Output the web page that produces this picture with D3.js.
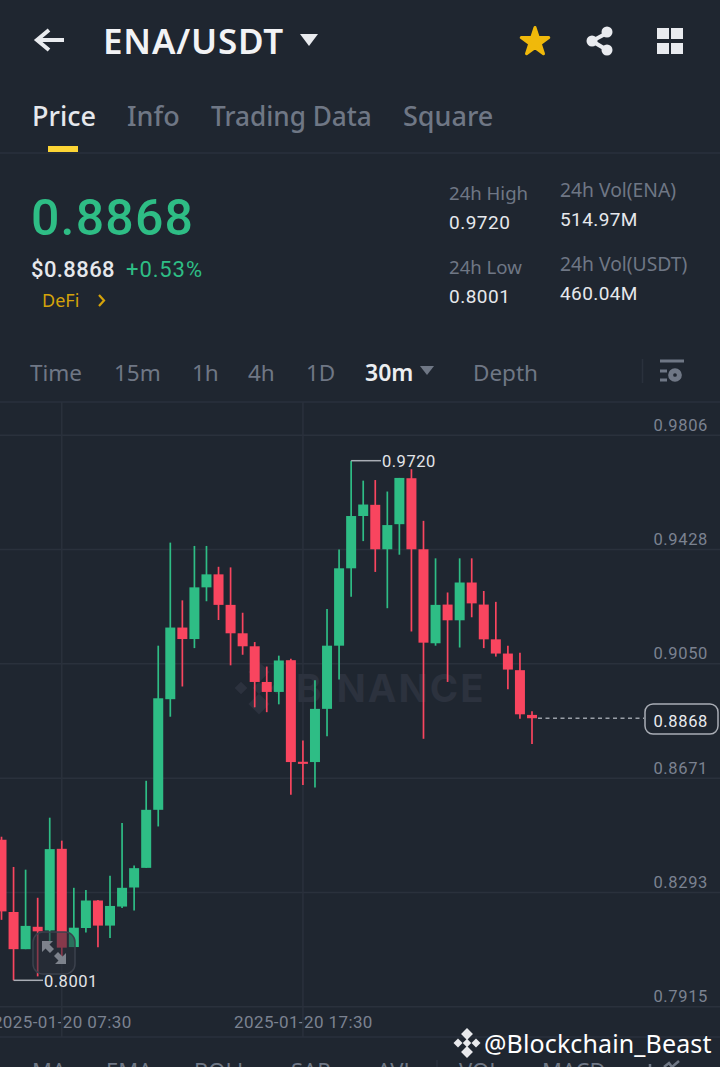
<!DOCTYPE html>
<html><head><meta charset="utf-8">
<script src="https://cdn.jsdelivr.net/npm/d3@7"></script>
<style>
html,body{margin:0;padding:0;background:#1f2630;overflow:hidden}
svg{display:block}
text{font-family:"Noto Sans",sans-serif}
.num{font-family:Roboto,sans-serif}
</style></head><body>
<svg id="c" width="720" height="1067"></svg>
<script>
const open  = [.8466,.8227,.8104,.8178,.8166,.8436,.8111,.8174,.8265,.8182,.8245,.8308,.8373,.8565,.8931,.9168,.9130,.9301,.9344,.9243,.9149,.9106,.8988,.8955,.9060,.8724,.8723,.8899,.9108,.9364,.9537,.9574,.9427,.9510,.9662,.9427,.9116,.9244,.9192,.9317,.9244,.9129,.9082,.9027,.8879];
const high  = [.8476,.8376,.8367,.8274,.8539,.8463,.8307,.8300,.8267,.8347,.8521,.8381,.8661,.9108,.9449,.9258,.9438,.9438,.9369,.9367,.9217,.9120,.9039,.9075,.9065,.8794,.8994,.9229,.9426,.9720,.9654,.9656,.9618,.9663,.9692,.9521,.9397,.9284,.9397,.9397,.9289,.9253,.9108,.9085,.8891];
const low   = [.8201,.8001,.8104,.8014,.8125,.8079,.8111,.8159,.8110,.8141,.8240,.8232,.8373,.8510,.8873,.8973,.9100,.9255,.9193,.9043,.9078,.8904,.8888,.8914,.8615,.8647,.8639,.8808,.8996,.9270,.9454,.9352,.9232,.9409,.9155,.8800,.9108,.8988,.9102,.9202,.9100,.9072,.8964,.8866,.8783];
const close = [.8229,.8104,.8181,.8163,.8435,.8109,.8175,.8265,.8182,.8247,.8307,.8372,.8565,.8934,.9168,.9130,.9301,.9344,.9243,.9149,.9106,.8988,.8955,.9059,.8723,.8717,.8899,.9108,.9364,.9537,.9575,.9427,.9507,.9663,.9427,.9118,.9243,.9192,.9317,.9248,.9129,.9082,.9029,.8881,.8868];
const firstTime = new Date(2025,0,20,5,0);
const stepMs = 30*60*1000;
const priceTicks = [.9806,.9428,.9050,.8671,.8293,.7915];
const timeTicks = [new Date(2025,0,20,7,30), new Date(2025,0,20,17,30)];
const lastPrice = .8868, maxPrice = .9720, minPrice = .8001;
const tabs = ["Price","Info","Trading Data","Square"];
const intervals = ["Time","15m","1h","4h","1D","30m","Depth"];
const indicators = ["MA","EMA","BOLL","SAR","AVL","VOL","MACD"];

const BG="#1f2630",UP="#2ebd85",DOWN="#f9455f",GRID="#2a313c",MUTED="#6f7785",AXIS="#7b8290",LIGHT="#e9ebef",GOLD="#f0b90b";
const svg=d3.select("#c");
const T=(x,y,s,size,fill,o={})=>svg.append("text").attr("x",x).attr("y",y).text(s)
  .attr("font-size",size).attr("fill",fill).attr("font-weight",o.w||400)
  .attr("text-anchor",o.a||"start").attr("class",o.c||null).style("letter-spacing",o.ls||null);
svg.append("rect").attr("width",720).attr("height",1067).attr("fill",BG);

/* header */
svg.append("path").attr("d","M64 40H38M49 30L37 40L49 50").attr("fill","none").attr("stroke",LIGHT).attr("stroke-width",4);
T(103,54,"ENA/USDT",35,"#f2f3f5",{w:600,ls:"0.8px"});
svg.append("path").attr("d","M300 34H318L309 46Z").attr("fill",LIGHT);
svg.append("path").attr("transform","translate(535,42)")
  .attr("d",d3.symbol(d3.symbolStar,235)()).attr("fill",GOLD).attr("stroke",GOLD).attr("stroke-width",3).attr("stroke-linejoin","round");
svg.append("path").attr("d","M607 33L592 41L607 50").attr("fill","none").attr("stroke",LIGHT).attr("stroke-width",4);
[[607,32,5.5],[592,41,5.5],[607,50,5.5]].forEach(c=>svg.append("circle").attr("cx",c[0]).attr("cy",c[1]).attr("r",c[2]).attr("fill",LIGHT));
[[657,28],[671,28],[657,43],[671,43]].forEach(c=>svg.append("rect").attr("x",c[0]).attr("y",c[1]).attr("width",12).attr("height",11).attr("fill",LIGHT));

/* tabs */
[32,127,211,403].forEach((x,i)=>T(x,126,tabs[i],i==2?26.2:27,i?MUTED:"#e6e8ec",{w:500}));
svg.append("line").attr("x1",0).attr("x2",720).attr("y1",153).attr("y2",153).attr("stroke",GRID).attr("stroke-width",1.5);
svg.append("rect").attr("x",48).attr("y",146).attr("width",30).attr("height",6).attr("fill","#fcd535");

/* price block */
T(31,234.5,d3.format(".4f")(lastPrice),50,UP,{w:500,c:"num",ls:"1.2px"});
T(31,277,"$"+d3.format(".4f")(lastPrice),22,"#e6e8ec",{w:500,c:"num",ls:"0.4px"});
T(126,277,"+0.53%",22,UP,{w:400,c:"num",ls:"0.9px"});
T(42,307,"DeFi",18,"#d5a30a");
svg.append("path").attr("d","M99 295L104 300.5L99 306").attr("fill","none").attr("stroke","#d5a30a").attr("stroke-width",2.2);
T(449,200,"24h High",18.6,MUTED);
T(449,229,d3.format(".4f")(maxPrice),19,"#e6e8ec",{c:"num",ls:"0.5px"});
T(449,274,"24h Low",18.6,MUTED);
T(449,303,d3.format(".4f")(minPrice),19,"#e6e8ec",{c:"num",ls:"0.5px"});
T(560,197,"24h Vol(ENA)",19.3,MUTED);
T(560,226,"514.97M",19,"#e6e8ec",{c:"num",ls:"0.4px"});
T(560,271,"24h Vol(USDT)",19.3,MUTED);
T(560,300,"460.04M",19,"#e6e8ec",{c:"num",ls:"0.4px"});

/* interval row */
[30,114,192,248,306,365,473].forEach((x,i)=>T(x,381,intervals[i],i==5?23:22.5,i==5?"#eceef1":MUTED,{w:i==5?600:400}));
svg.append("path").attr("d","M420 366H434L427 375Z").attr("fill",MUTED);
svg.append("line").attr("x1",642.5).attr("x2",642.5).attr("y1",359).attr("y2",383).attr("stroke",GRID).attr("stroke-width",1.5);
svg.append("path").attr("d","M660 361H684M660 371H667M660 380H667").attr("stroke",MUTED).attr("stroke-width",3);
svg.append("path").attr("transform","translate(675,375)").attr("d",d3.symbol(d3.symbolCircle,60)()).attr("fill","none").attr("stroke",MUTED).attr("stroke-width",5);
svg.append("line").attr("x1",0).attr("x2",720).attr("y1",402).attr("y2",402).attr("stroke",GRID).attr("stroke-width",1.5);

/* scales */
const times=open.map((_,i)=>new Date(+firstTime+i*stepMs));
const x=d3.scaleTime().domain([times[0],times[44]]).range([1.5,532]);
const y=d3.scaleLinear().domain([.7915,.9806]).range([1006.3,434.7]);

/* grid + axes */
const yAxis=d3.axisRight(y).tickValues(priceTicks).tickFormat(d3.format(".4f")).tickSize(720).tickPadding(0);
const gy=svg.append("g").call(yAxis);
gy.select(".domain").remove();
gy.selectAll("line").attr("stroke",GRID).attr("stroke-width",1.5);
gy.selectAll("text").attr("class","num").attr("x",708).attr("y",-4.5).attr("dy",0).attr("dominant-baseline","auto").attr("text-anchor","end")
  .attr("font-size",16.5).attr("fill",AXIS).style("letter-spacing","0.65px");
const xAxis=d3.axisBottom(x).tickValues(timeTicks).tickFormat(d3.timeFormat("%Y-%m-%d %H:%M")).tickSize(0);
const gx=svg.append("g").attr("transform","translate(0,1037)").call(xAxis);
gx.select(".domain").remove();
gx.selectAll("text").attr("y",-9).attr("dy",0).attr("class","num").attr("font-size",17).attr("fill",AXIS).style("letter-spacing","0.4px");
svg.selectAll(".vgrid").data(timeTicks).join("line").attr("x1",d=>x(d)).attr("x2",d=>x(d)).attr("y1",402).attr("y2",1037).attr("stroke",GRID).attr("stroke-width",1.5);
svg.append("line").attr("x1",0).attr("x2",720).attr("y1",1037).attr("y2",1037).attr("stroke",GRID).attr("stroke-width",1.5);

/* watermark */
const wm=svg.append("g").attr("fill","#2c323e");
[[241,688,4.5],[259,672,7.5],[259,704,7.5],[277,688,4.5],[259,688,4.5]].forEach(d=>
  wm.append("rect").attr("x",d[0]-d[2]).attr("y",d[1]-d[2]).attr("width",d[2]*2).attr("height",d[2]*2).attr("transform",`rotate(45 ${d[0]} ${d[1]})`));
wm.append("text").attr("x",296).attr("y",702).attr("font-size",38.4).attr("font-weight",700).style("font-family","Inter,sans-serif").style("letter-spacing","2.1px").text("BINANCE");

/* candles */
const bw=10;
const g=svg.append("g");
g.selectAll(".wick").data(times).join("line").attr("class","wick")
  .attr("x1",d=>x(d)).attr("x2",d=>x(d))
  .attr("y1",(d,i)=>y(high[i])).attr("y2",(d,i)=>y(low[i]))
  .attr("stroke",(d,i)=>close[i]>=open[i]?UP:DOWN).attr("stroke-width",1.7);
g.selectAll(".body").data(times).join("rect").attr("class","body")
  .attr("x",d=>x(d)-bw/2).attr("width",bw)
  .attr("y",(d,i)=>y(Math.max(open[i],close[i])))
  .attr("height",(d,i)=>Math.max(2,Math.abs(y(open[i])-y(close[i]))))
  .attr("fill",(d,i)=>close[i]>=open[i]?UP:DOWN);

/* high / low markers */
const hi=high.indexOf(maxPrice), lo=low.indexOf(minPrice);
svg.append("line").attr("x1",x(times[hi])).attr("x2",381).attr("y1",y(maxPrice)).attr("y2",y(maxPrice)).attr("stroke","#a9adb5").attr("stroke-width",1.5);
T(382,y(maxPrice)+6.5,d3.format(".4f")(maxPrice),16.5,"#e3e5e9",{c:"num",ls:"0.5px"});
svg.append("line").attr("x1",x(times[lo])).attr("x2",43).attr("y1",y(minPrice)).attr("y2",y(minPrice)).attr("stroke","#a9adb5").attr("stroke-width",1.5);
T(44,y(minPrice)+6.5,d3.format(".4f")(minPrice),16.5,"#e3e5e9",{c:"num",ls:"0.5px"});

/* last price */
svg.append("line").attr("x1",x(times[44])+6).attr("x2",644).attr("y1",y(lastPrice)).attr("y2",y(lastPrice)).attr("stroke","#9a9fa8").attr("stroke-width",1.3).attr("stroke-dasharray","4 3.5");
svg.append("rect").attr("x",645).attr("y",704).attr("width",73).attr("height",30).attr("rx",8).attr("fill",BG).attr("stroke","#a9adb5").attr("stroke-width",1.5);
T(708,727,d3.format(".4f")(lastPrice),16.5,"#e9ebef",{c:"num",a:"end",ls:"0.65px"});

/* expand button */
svg.append("rect").attr("x",33).attr("y",932).attr("width",42).attr("height",42).attr("rx",10).attr("fill","#2a303b").attr("fill-opacity",.55).attr("stroke","#3b414c").attr("stroke-width",1.5);
svg.append("path").attr("d","M42 941H53L49.5 944.5L54 949L50 953L45.5 948.5L42 952ZM66 964H55L58.5 960.5L54 956L58 952L62.5 956.5L66 953Z").attr("fill","#7d828c");

/* bottom indicators, clipped by the page edge */
[32,106,194,291,377,459,542].forEach((px,i)=>T(px,1079,indicators[i],22,MUTED));
svg.append("line").attr("x1",437).attr("x2",437).attr("y1",1060).attr("y2",1067).attr("stroke",GRID).attr("stroke-width",1.5);
svg.append("path").attr("d","M650 1067V1064M664 1067L669 1063L672 1067L679 1061").attr("fill","none").attr("stroke",MUTED).attr("stroke-width",2.5);

/* credit */
const logo=svg.append("g").attr("fill","#e8e9ec");
[[458,1043,3.2],[467,1034,4.2],[467,1052,4.2],[476,1043,3.2],[467,1043,3]].forEach(d=>
  logo.append("rect").attr("x",d[0]-d[2]).attr("y",d[1]-d[2]).attr("width",d[2]*2).attr("height",d[2]*2).attr("transform",`rotate(45 ${d[0]} ${d[1]})`));
T(484,1053,"@Blockchain_Beast",25,"#ffffff",{ls:"0.12px"});
</script>
</body></html>
